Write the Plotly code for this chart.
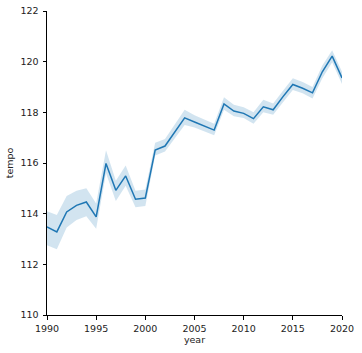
import plotly.graph_objects as go

years = list(range(1990, 2021))
tempo = [113.48, 113.28, 114.07, 114.33, 114.46, 113.87, 115.98, 114.92, 115.49, 114.57,
         114.62, 116.51, 116.67, 117.23, 117.78, 117.62, 117.46, 117.30, 118.33, 118.05,
         117.96, 117.75, 118.22, 118.10, 118.62, 119.10, 118.95, 118.77, 119.60, 120.22, 119.36]
ci_low = [112.75, 112.6, 113.45, 113.75, 113.9, 113.4, 115.6, 114.5, 115.1, 114.25,
          114.3, 116.3, 116.45, 117.0, 117.5, 117.4, 117.25, 117.1, 118.1, 117.85,
          117.78, 117.55, 118.0, 117.9, 118.4, 118.88, 118.75, 118.55, 119.35, 119.98, 119.12]
ci_high = [114.1, 113.95, 114.7, 114.9, 115.0, 114.4, 116.5, 115.3, 115.9, 114.9,
           114.95, 116.8, 116.95, 117.5, 118.1, 117.88, 117.7, 117.55, 118.6, 118.3,
           118.2, 118.0, 118.5, 118.35, 118.85, 119.35, 119.2, 119.0, 119.85, 120.45, 119.6]

xticks = [1990, 1995, 2000, 2005, 2010, 2015, 2020]
yticks = [110, 112, 114, 116, 118, 120, 122]

fig = go.Figure()
fig.add_trace(go.Scatter(x=years, y=ci_high, mode="lines", line=dict(width=0),
                         showlegend=False, hoverinfo="skip"))
fig.add_trace(go.Scatter(x=years, y=ci_low, mode="lines", line=dict(width=0),
                         fill="tonexty", fillcolor="rgba(31,119,180,0.2)",
                         showlegend=False, hoverinfo="skip"))
fig.add_trace(go.Scatter(x=years, y=tempo, mode="lines",
                         line=dict(color="#1f77b4", width=1.5), showlegend=False))

axis_common = dict(showgrid=False, zeroline=False, showline=True, linecolor="black",
                   linewidth=1, ticks="outside", ticklen=3.5, tickwidth=1, tickcolor="black",
                   automargin=False,
                   tickfont=dict(family="DejaVu Sans", size=9.5, color="#222"))
fig.update_layout(
    width=362, height=353,
    margin=dict(l=47, r=20, t=11, b=38),
    paper_bgcolor="white", plot_bgcolor="white",
    xaxis=dict(range=[1990, 2020], tickvals=xticks, ticktext=[str(t) for t in xticks],
               ticklabelstandoff=1,
               title=dict(text="year", font=dict(family="DejaVu Sans", size=9.5, color="#222"),
                          standoff=3),
               **axis_common),
    yaxis=dict(range=[110, 122], tickvals=yticks, ticktext=[str(t) for t in yticks],
               ticklabelstandoff=2,
               title=dict(text="tempo", font=dict(family="DejaVu Sans", size=9.5, color="#222"),
                          standoff=5),
               **axis_common),
)
fig.write_html("out.html")
